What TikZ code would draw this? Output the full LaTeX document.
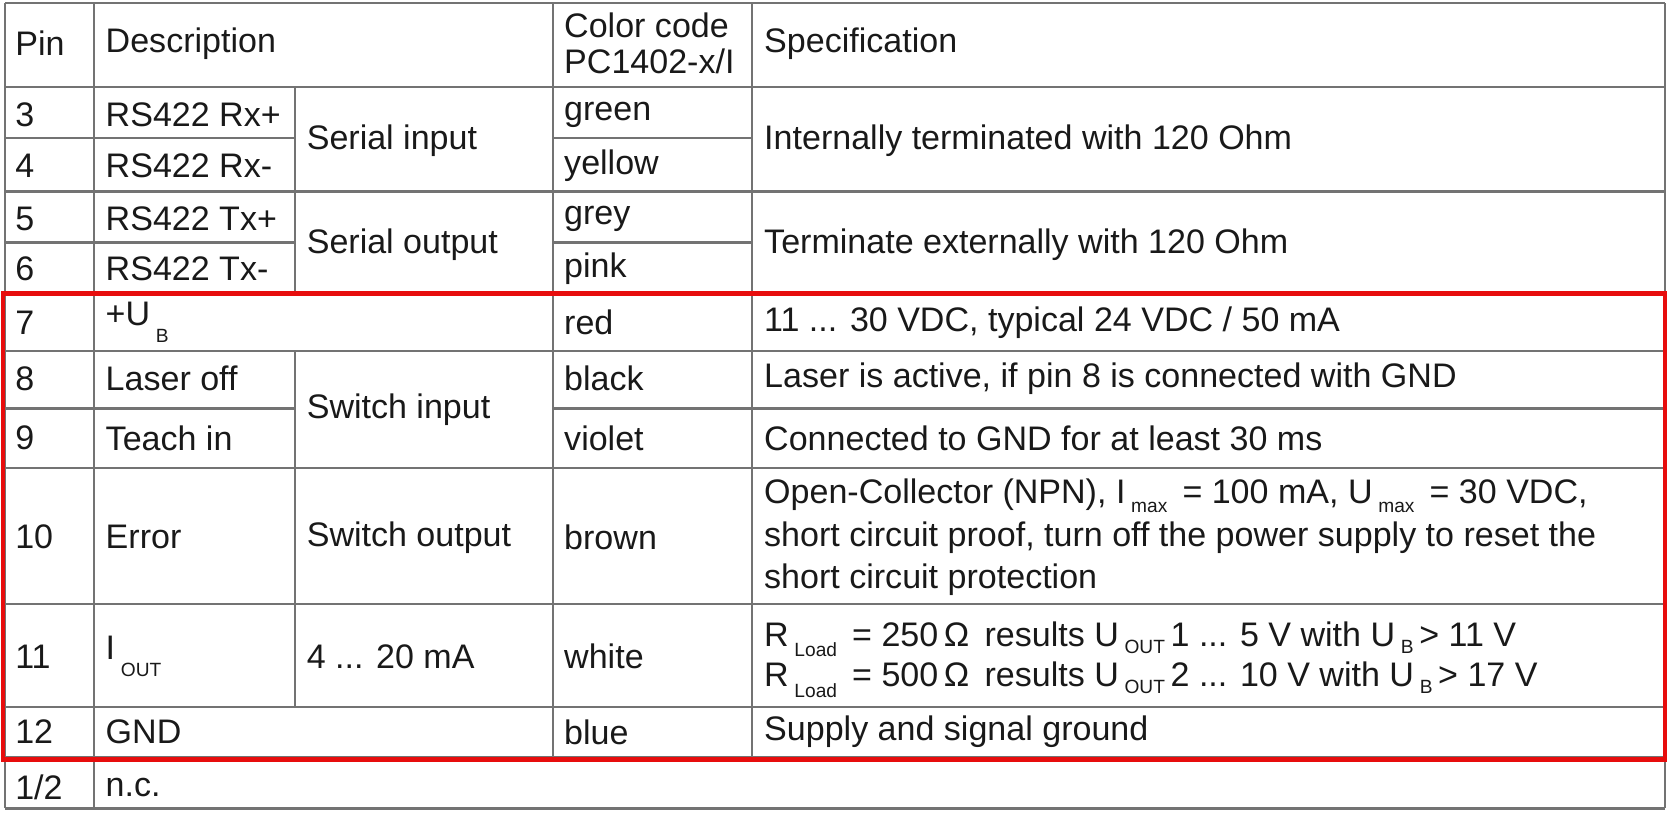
\documentclass[tikz,border=0pt]{standalone}
\usepackage{fontspec}
\setmainfont{Liberation Sans}
\begin{document}
\begin{tikzpicture}[x=0.5pt,y=-0.5pt,
 ln/.style={draw=black!55,line width=1pt},
 t/.style={anchor=west,inner sep=0pt,font=\fontsize{16}{20}\selectfont,text=black!90}]
\newcommand\sbx[2][-0.9ex]{\raisebox{#1}{\,\fontsize{9}{10}\selectfont #2}}
\useasboundingbox (0,0) rectangle (1568,765);
% horizontal lines
\foreach \y in {3,82,180,276,330,440,568,665,712,760} \draw[ln] (5,\y) -- (1565,\y);
\draw[ln] (5,130) -- (277,130); \draw[ln] (520,130) -- (707,130);
\draw[ln] (5,228) -- (277,228); \draw[ln] (520,228) -- (707,228);
\draw[ln] (5,384) -- (277,384); \draw[ln] (520,384) -- (1565,384);
% vertical lines
\draw[ln] (5,3) -- (5,760); \draw[ln] (1565,3) -- (1565,760);
\draw[ln] (88,3) -- (88,760);
\draw[ln] (277,82) -- (277,276); \draw[ln] (277,330) -- (277,665);
\draw[ln] (520,3) -- (520,712); \draw[ln] (707,3) -- (707,712);
% red box
\draw[red!90!black!95!white,line width=2pt] (3,276) rectangle (1565,714);
% header
\node[t] (h1) at (14,41) {Pin};
\node[t] (h2) at (99,41) {Description};
\node[t,align=left] (h3) at (530,41) {Color code\\[-3pt]PC1402-x/I};
\node[t] (h4) at (718,41) {Specification};
% pins
\foreach \p/\y [count=\i] in {3/108,4/156,5/206,6/253,7/303,8/356,9/412,10/505,11/617,12/688,1\slash2/740}
  \node[t] (p\i) at (14,\y) {\p};
\node[t] (d3) at (99,108) {RS422 Rx+};
\node[t] (d4) at (99,156) {RS422 Rx-};
\node[t] (d5) at (99,206) {RS422 Tx+};
\node[t] (d6) at (99,253) {RS422 Tx-};
\node[t] (d7) at (99,303) {+U\sbx{B}};
\node[t] (d8) at (99,356) {Laser off};
\node[t] (d9) at (99,412) {Teach in};
\node[t] (d10) at (99,505) {Error};
\node[t] (d11) at (99,617) {I\sbx{OUT}};
\node[t] (d12) at (99,688) {GND};
\node[t] (d13) at (99,740) {n.c.};
\node[t] (g1) at (288,132) {Serial input};
\node[t] (g2) at (288,230) {Serial output};
\node[t] (g3) at (288,385) {Switch input};
\node[t] (g4) at (288,505) {Switch output};
\node[t] (g5) at (288,617) {4 ... 20 mA};
\foreach \c/\y [count=\i] in {green/108,yellow/156,grey/206,pink/253,red/303,black/356,violet/412,brown/505,white/617,blue/688}
  \node[t] (c\i) at (530,\y) {\c};
\node[t] (s1) at (718,132) {Internally terminated with 120 Ohm};
\node[t] (s2) at (718,230) {Terminate externally with 120 Ohm};
\node[t] (s3) at (718,303) {11 ... 30 VDC, typical 24 VDC / 50 mA};
\node[t] (s4) at (718,356) {Laser is active, if pin 8 is connected with GND};
\node[t] (s5) at (718,412) {Connected to GND for at least 30 ms};
\node[t,align=left] (s6) at (718,505) {Open-Collector (NPN), I\sbx[-0.5ex]{max}\, = 100 mA, U\sbx[-0.5ex]{max}\, = 30 VDC,\\short circuit proof, turn off the power supply to reset the\\short circuit protection};
\node[t,align=left] (s7) at (718,620) {R\sbx[-0.6ex]{Load}\, = 250\,Ω\, results U\sbx[-0.4ex]{OUT}\,1 ... 5 V with U\sbx[-0.4ex]{B}\,> 11 V\\[-1pt]R\sbx[-0.6ex]{Load}\, = 500\,Ω\, results U\sbx[-0.4ex]{OUT}\,2 ... 10 V with U\sbx[-0.4ex]{B}\,> 17 V};
\node[t] (s8) at (718,688) {Supply and signal ground};
\end{tikzpicture}
\end{document}
